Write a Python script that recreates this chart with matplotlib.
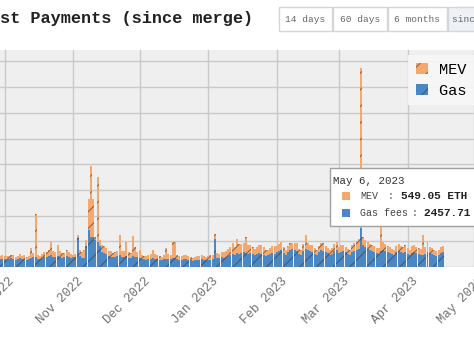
import datetime as dt
import matplotlib
matplotlib.use("Agg")
import matplotlib.pyplot as plt
import matplotlib.dates as mdates
import matplotlib.transforms as mtransforms
from matplotlib.patches import Patch, Rectangle

# daily payments in ETH, starting 2022-09-28 (visible window only)
start_day = dt.date(2022, 9, 28)

gas_sep = [165, 150, 160]
mev_sep = [70, 60, 75]

gas_oct = [160, 140, 155, 175, 160, 140, 150, 170, 155, 160, 140, 150, 175, 195, 185, 160,
           155, 170, 190, 195, 210, 230, 195, 200, 215, 195, 180, 195, 210, 190, 175]
mev_oct = [60, 75, 60, 55, 80, 60, 55, 75, 60, 80, 55, 60, 195, 80, 840, 75,
           60, 80, 95, 100, 120, 255, 115, 95, 215, 115, 95, 80, 120, 95, 80]

gas_nov = [190, 200, 560, 210, 180, 175, 400, 720, 585, 585, 530, 490, 400, 300, 270,
           250, 215, 200, 185, 190, 210, 235, 200, 190, 215, 180, 175, 220, 195, 190]
mev_nov = [45, 55, 60, 130, 110, 150, 125, 605, 1380, 740, 55, 1260, 125, 125, 130,
           120, 100, 105, 95, 110, 100, 390, 115, 120, 270, 110, 105, 380, 200, 110]

gas_dec = [175, 160, 150, 140, 155, 160, 170, 165, 150, 140, 135, 150, 165, 160, 150, 175,
           170, 150, 140, 145, 150, 155, 140, 130, 125, 130, 140, 145, 150, 140, 135]
mev_dec = [150, 80, 70, 65, 80, 90, 160, 85, 75, 70, 60, 80, 210, 90, 80, 315,
           320, 85, 75, 70, 80, 85, 70, 60, 55, 65, 70, 75, 80, 70, 65]

gas_jan = [135, 140, 155, 545, 175, 170, 195, 180, 195, 215, 235, 255, 235, 275, 255, 275,
           290, 270, 255, 275, 250, 235, 255, 275, 255, 235, 215, 235, 255, 275, 250]
mev_jan = [80, 95, 80, 100, 100, 80, 100, 115, 115, 135, 155, 215, 155, 275, 195, 175,
           175, 310, 175, 155, 135, 115, 135, 155, 175, 155, 115, 100, 115, 135, 155]

gas_feb = [290, 310, 330, 275, 235, 290, 330, 350, 330, 310, 255, 235, 310, 350,
           330, 310, 290, 255, 235, 290, 330, 310, 290, 275, 235, 255, 310, 330]
mev_feb = [115, 135, 155, 115, 100, 115, 135, 115, 135, 155, 100, 100, 135, 275,
           135, 115, 135, 115, 100, 115, 135, 155, 115, 100, 100, 115, 135, 155]

gas_mar = [275, 290, 310, 290, 255, 235, 290, 310, 330, 350, 760, 430, 390, 350, 330, 310,
           290, 275, 255, 310, 330, 310, 290, 275, 255, 235, 290, 310, 290, 275, 290]
mev_mar = [115, 135, 115, 100, 100, 100, 135, 155, 175, 195, 3115, 155, 135, 135, 115, 115,
           115, 100, 115, 660, 155, 135, 115, 115, 100, 100, 115, 135, 115, 115, 135]

gas_apr = [255, 235, 275, 290, 275, 255, 235, 235, 255, 290, 275, 255, 235, 215, 235, 275, 290]
mev_apr = [115, 100, 135, 135, 115, 115, 115, 390, 135, 195, 115, 115, 100, 100, 100, 115, 115]

month_ticks = [dt.date(2022, 10, 1), dt.date(2022, 11, 1), dt.date(2022, 12, 1),
               dt.date(2023, 1, 1), dt.date(2023, 2, 1), dt.date(2023, 3, 1),
               dt.date(2023, 4, 1), dt.date(2023, 5, 1)]
month_labels = ["Oct 2022", "Nov 2022", "Dec 2022", "Jan 2023",
                "Feb 2023", "Mar 2023", "Apr 2023", "May 2023"]

gas = gas_sep + gas_oct + gas_nov + gas_dec + gas_jan + gas_feb + gas_mar + gas_apr
mev = mev_sep + mev_oct + mev_nov + mev_dec + mev_jan + mev_feb + mev_mar + mev_apr
days = [start_day + dt.timedelta(days=i) for i in range(len(gas))]

blue = "#4a87c5"
orange = "#f5a86e"
hatch_col = (0.25, 0.22, 0.2, 0.65)
mono = "Liberation Mono"

plt.rcParams["hatch.linewidth"] = 0.7

W, H = 474, 355


def fx(px):
    return px / W


def fy(py):
    return 1 - py / H


fig = plt.figure(figsize=(W / 100, H / 100), dpi=100)
ax = fig.add_axes([0, fy(267), 1, (267 - 50) / H])
ax.set_facecolor("#efefef")

# stacked daily bars, hatch drawn as separate overlay
bw = 0.9
ax.bar(days, gas, width=bw, color=blue, linewidth=0)
ax.bar(days, gas, width=bw, facecolor="none", edgecolor=hatch_col, hatch="//", linewidth=0)
ax.bar(days, mev, bottom=gas, width=bw, color=orange, linewidth=0)
ax.bar(days, mev, bottom=gas, width=bw, facecolor="none", edgecolor=hatch_col,
       hatch="//", linewidth=0)

nov1 = mdates.date2num(dt.date(2022, 11, 1))
ax.set_xlim(nov1 - 33.05, nov1 + 167.03)
ax.set_ylim(0, 4223)
ax.set_yticks(range(0, 4001, 500))
ax.set_yticklabels([])
ax.set_xticks(month_ticks)
ax.set_xticklabels(month_labels)
ax.grid(True, color="#c9c9c9", linewidth=1)
ax.set_axisbelow(True)
ax.tick_params(length=0, pad=6)
for s in ax.spines.values():
    s.set_visible(False)

offset = mtransforms.ScaledTranslation(4 / 100, 0, fig.dpi_scale_trans)
for lbl in ax.get_xticklabels():
    lbl.set_rotation(45)
    lbl.set_ha("right")
    lbl.set_rotation_mode("anchor")
    lbl.set_family(mono)
    lbl.set_fontsize(9)
    lbl.set_color("#707070")
    lbl.set_transform(lbl.get_transform() + offset)

# title (cropped on the left in the screenshot)
fig.text(0, fy(19), "st Payments (since merge)", fontsize=12.2, fontweight="bold",
         family=mono, color="#222222", va="center", ha="left")

# range buttons
buttons = [("14 days", 279, 332, "white"), ("60 days", 333, 387, "white"),
           ("6 months", 388, 447, "white"), ("since merge", 448, 490, "#eef1f5")]
for txt, x0, x1, fc in buttons:
    fig.patches.append(Rectangle((fx(x0), fy(31)), fx(x1) - fx(x0), fy(7) - fy(31),
                                 transform=fig.transFigure, facecolor=fc,
                                 edgecolor="#d6d6d6", linewidth=1))
    if x1 > W:
        fig.text(fx(452), fy(19), txt, fontsize=6.8, family=mono, color="#666666",
                 va="center", ha="left")
    else:
        fig.text(fx((x0 + x1) / 2), fy(19), txt, fontsize=6.8, family=mono,
                 color="#666666", va="center", ha="center")

# legend
handles = [Patch(facecolor=orange, edgecolor=hatch_col, hatch="//", linewidth=0),
           Patch(facecolor=blue, edgecolor=hatch_col, hatch="//", linewidth=0)]
leg = fig.legend(handles, ["MEV", "Gas fees"], loc="upper left",
                 bbox_to_anchor=(fx(408), fy(55)), prop={"family": mono, "size": 11},
                 frameon=True, fancybox=False, borderpad=0.5, handlelength=0.8,
                 handleheight=0.8, handletextpad=0.7, labelspacing=0.45,
                 borderaxespad=0)
leg.get_frame().set_facecolor("#f7f7f7")
leg.get_frame().set_edgecolor("none")
leg.get_frame().set_alpha(0.9)

# hover tooltip
fig.patches.append(Rectangle((fx(330), fy(226)), fx(490) - fx(330), fy(168) - fy(226),
                             transform=fig.transFigure, facecolor="white",
                             edgecolor="#a0a0a0", linewidth=1))
fig.text(fx(333), fy(181), "May 6, 2023", fontsize=7.8, family=mono, color="#333333",
         va="center", ha="left")
rows = [(196, orange, "MEV", 388, "549.05 ETH", 401),
        (213, blue, "Gas fees", 412, "2457.71 ETH", 424)]
for py, col, name, colon_x, val, val_x in rows:
    fig.patches.append(Rectangle((fx(342), fy(py + 4)), fx(350) - fx(342), fy(py - 4) - fy(py + 4),
                                 transform=fig.transFigure, facecolor=col,
                                 edgecolor=hatch_col, hatch="//", linewidth=0))
    fig.text(fx(360), fy(py), name, fontsize=7.2, family=mono, color="#444444",
             va="center", ha="left")
    fig.text(fx(colon_x), fy(py), ":", fontsize=7.2, family=mono, color="#444444",
             va="center", ha="left")
    fig.text(fx(val_x), fy(py), val, fontsize=8, family=mono, fontweight="bold",
             color="#222222", va="center", ha="left")

fig.savefig("out.png", dpi=100)
